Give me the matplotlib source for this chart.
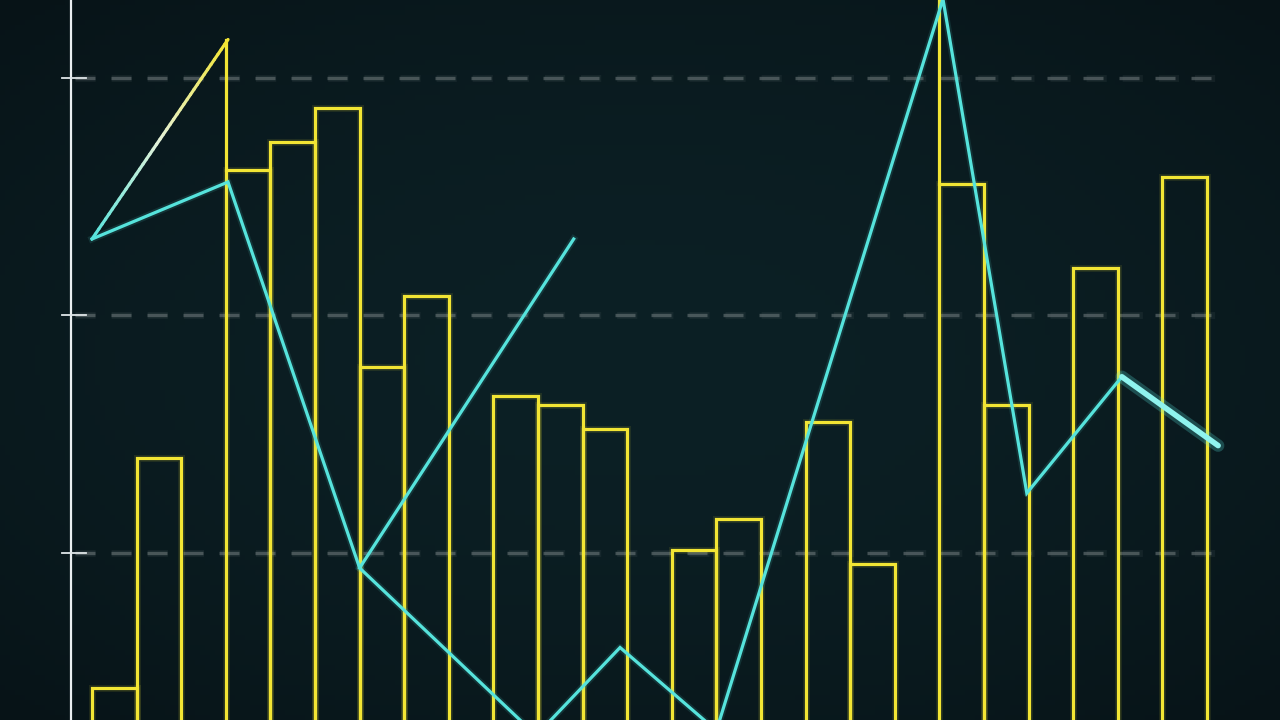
import numpy as np
import matplotlib
matplotlib.use("Agg")
import matplotlib.pyplot as plt
from matplotlib.collections import LineCollection

# ---------------- data ----------------
bar_index = list(range(25))
bar_values = [4.3, 14.0, 2.5, 26.1, 27.3, 28.7, 17.8, 20.8, 2.5, 16.6,
              16.2, 15.2, 2.5, 10.1, 11.4, 2.5, 15.5, 9.5, 2.5, 25.5,
              16.2, 2.5, 22.0, 2.5, 25.8]

line_x = [0.0, 3.05, 6.0, 9.96, 11.84, 14.0, 19.08, 20.96, 23.09, 25.25]
line_y = [23.2, 25.6, 9.35, 2.3, 6.0, 2.5, 33.3, 12.5, 17.4, 14.5]

branch_x = [6.0, 10.8]
branch_y = [9.35, 23.2]

ghost_x = [0.0, 3.05]
ghost_y = [23.2, 31.6]

spike_x = [3.0, 19.0]
spike_lo = [26.1, 25.5]
spike_hi = [31.6, 33.3]

grid_values = [10, 20, 30]

# ---------------- style ----------------
BG = "#0a1c21"
YELLOW = "#f2e534"
CYAN = "#56e3dc"

fig = plt.figure(figsize=(12.8, 7.2), dpi=100, facecolor=BG)
ax = fig.add_axes([0, 0, 1, 1])
ax.set_facecolor(BG)

X0, XS = 92.0, 44.6
ax.set_xlim((0 - X0) / XS, (1280 - X0) / XS)
YB, YS = 790.0, 23.75
ax.set_ylim((YB - 720) / YS, YB / YS)
ax.axis("off")

# vignette background
gx = np.linspace(-1, 1, 256)
gy = np.linspace(-1, 1, 144)
GX, GY = np.meshgrid(gx, gy)
r = np.sqrt(GX ** 2 * 0.8 + GY ** 2 * 0.9)
base = np.array([0x0c, 0x20, 0x25]) / 255.0
dark = np.array([0x07, 0x13, 0x17]) / 255.0
t = np.clip(r / 1.3, 0, 1)[..., None] ** 1.8
img = base * (1 - t) + dark * t
ax.imshow(img, extent=[*ax.get_xlim(), *ax.get_ylim()], aspect="auto", zorder=0)

# gridlines
gx0 = (75 - X0) / XS
gx1 = (1225 - X0) / XS
for gv in grid_values:
    ax.plot([gx0, gx1], [gv, gv], color="#6b7678", lw=5, alpha=0.12,
            linestyle=(0, (2.9, 2.3)), zorder=1, solid_capstyle="butt")
    ax.plot([gx0, gx1], [gv, gv], color="#6b7678", lw=2.4, alpha=0.6,
            linestyle=(0, (6.0, 4.8)), zorder=1, solid_capstyle="butt")

# left spine + ticks
sx = (71 - X0) / XS
ax.plot([sx, sx], ax.get_ylim(), color="#e9eef0", lw=1.6, zorder=2)
for gv in grid_values:
    ax.plot([(62 - X0) / XS, (86 - X0) / XS], [gv, gv], color="#dfe6e8",
            lw=1.3, zorder=2)

# bars
ax.bar(bar_index, bar_values, width=1.0, align="edge", fill=False,
       edgecolor=YELLOW, linewidth=2.3, zorder=3)
ax.bar(bar_index, bar_values, width=1.0, align="edge", fill=False,
       edgecolor=YELLOW, linewidth=5, alpha=0.10, zorder=2.9)

# spikes (bar left edges extended)
for sxv, lo, hi in zip(spike_x, spike_lo, spike_hi):
    ax.plot([sxv, sxv], [lo, hi], color=YELLOW, lw=2.3, zorder=3)

# ghost gradient line (cyan -> yellow)
n = 40
px = np.linspace(ghost_x[0], ghost_x[1], n + 1)
py = np.linspace(ghost_y[0], ghost_y[1], n + 1)
segs = [[(px[i], py[i]), (px[i + 1], py[i + 1])] for i in range(n)]
c0 = np.array(matplotlib.colors.to_rgb(CYAN))
c1 = np.array(matplotlib.colors.to_rgb(YELLOW))
mid = np.array([0.9, 0.95, 0.85])
cols = []
for i in range(n):
    s = i / (n - 1)
    if s < 0.5:
        c = c0 * (1 - s * 2) + mid * (s * 2)
    else:
        c = mid * (1 - (s - 0.5) * 2) + c1 * ((s - 0.5) * 2)
    cols.append(c)
ax.add_collection(LineCollection(segs, colors=cols, linewidths=2.3, zorder=4,
                                 capstyle="round"))

# cyan line
ax.plot(line_x[:-1], line_y[:-1], color=CYAN, lw=5, alpha=0.12, zorder=4)
ax.plot(line_x[:-1], line_y[:-1], color=CYAN, lw=2.3, zorder=5,
        solid_joinstyle="miter")
ax.plot(branch_x, branch_y, color=CYAN, lw=5, alpha=0.12, zorder=4)
ax.plot(branch_x, branch_y, color=CYAN, lw=2.3, zorder=5)
# last thicker glowing segment
ax.plot(line_x[-2:], line_y[-2:], color=CYAN, lw=9, alpha=0.25, zorder=4,
        solid_capstyle="round")
ax.plot(line_x[-2:], line_y[-2:], color="#8ff3ee", lw=4, zorder=5,
        solid_capstyle="round")

fig.savefig("out.png", dpi=100, facecolor=BG)
